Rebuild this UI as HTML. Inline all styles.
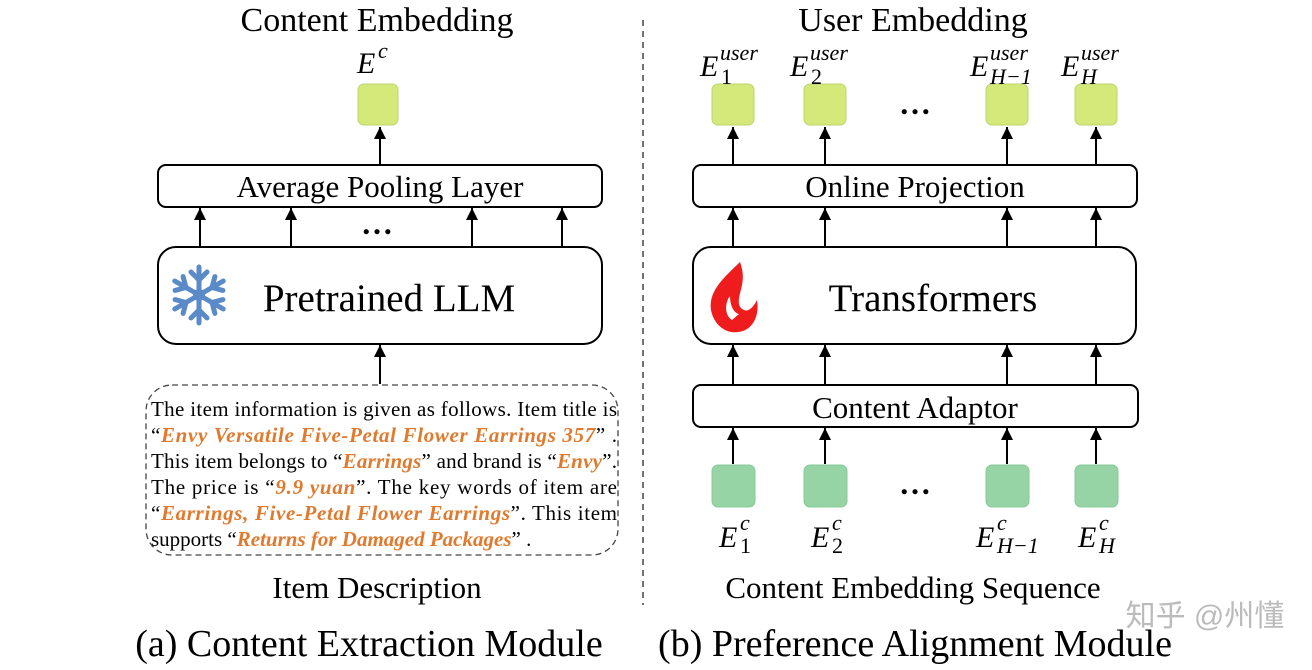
<!DOCTYPE html>
<html><head><meta charset="utf-8"><style>
html,body{margin:0;padding:0;background:#fff;}
svg{display:block;font-family:"Liberation Serif",serif;}
.o{fill:#e07a2e;font-weight:bold;font-style:italic;}
</style></head><body>
<svg width="1312" height="670" viewBox="0 0 1312 670" xmlns="http://www.w3.org/2000/svg">
<defs>
<marker id="a" markerWidth="12" markerHeight="12" refX="10" refY="5" orient="auto" markerUnits="userSpaceOnUse" viewBox="0 0 10 10">
<path d="M0,0 L10,5 L0,10 Z" fill="#000"/></marker>
</defs>
<g stroke="#000" stroke-width="2" fill="none" marker-end="url(#a)">
<line x1="380" y1="164" x2="380" y2="127"/>
<line x1="200" y1="246" x2="200" y2="208"/><line x1="291" y1="246" x2="291" y2="208"/>
<line x1="472" y1="246" x2="472" y2="208"/><line x1="562" y1="246" x2="562" y2="208"/>
<line x1="380" y1="384" x2="380" y2="345"/>
<line x1="733" y1="164" x2="733" y2="127"/><line x1="825" y1="164" x2="825" y2="127"/>
<line x1="1007" y1="164" x2="1007" y2="127"/><line x1="1096" y1="164" x2="1096" y2="127"/>
<line x1="733" y1="246" x2="733" y2="208"/><line x1="825" y1="246" x2="825" y2="208"/>
<line x1="1007" y1="246" x2="1007" y2="208"/><line x1="1096" y1="246" x2="1096" y2="208"/>
<line x1="733" y1="384" x2="733" y2="345"/><line x1="825" y1="384" x2="825" y2="345"/>
<line x1="1007" y1="384" x2="1007" y2="345"/><line x1="1096" y1="384" x2="1096" y2="345"/>
<line x1="733" y1="464" x2="733" y2="428"/><line x1="825" y1="464" x2="825" y2="428"/>
<line x1="1007" y1="464" x2="1007" y2="428"/><line x1="1096" y1="464" x2="1096" y2="428"/>
</g>
<g stroke="#000" stroke-width="2" fill="#fff">
<rect x="158" y="165" width="444" height="42" rx="8"/>
<rect x="158" y="247" width="444" height="97" rx="18"/>
<rect x="693" y="165" width="444" height="42" rx="8"/>
<rect x="693" y="247" width="443" height="97" rx="18"/>
<rect x="693" y="385" width="445" height="42" rx="8"/>
</g>
<rect x="146" y="385" width="472" height="170" rx="26" fill="none" stroke="#444" stroke-width="1.3" stroke-dasharray="6,4"/>
<line x1="643" y1="20" x2="643" y2="605" stroke="#444" stroke-width="1.5" stroke-dasharray="6,5"/>
<g fill="#d4e97a" stroke="#bdd46c" stroke-width="1">
<rect x="358" y="84" width="40" height="41" rx="6"/>
<rect x="712" y="84" width="42" height="41" rx="6"/><rect x="804" y="84" width="42" height="41" rx="6"/>
<rect x="986" y="84" width="42" height="41" rx="6"/><rect x="1075" y="84" width="42" height="41" rx="6"/>
</g>
<g fill="#96d4a6" stroke="#88c898" stroke-width="1">
<rect x="712" y="465" width="43" height="42" rx="6"/><rect x="804" y="465" width="43" height="42" rx="6"/>
<rect x="986" y="465" width="43" height="42" rx="6"/><rect x="1075" y="465" width="43" height="42" rx="6"/>
</g>
<g stroke="#5b8ac9" stroke-width="5" stroke-linecap="round" fill="none" transform="translate(199,295)">
<g id="arm"><line x1="0" y1="0" x2="0" y2="-28"/><line x1="0" y1="-15" x2="-8" y2="-23"/><line x1="0" y1="-15" x2="8" y2="-23"/></g>
<use href="#arm" transform="rotate(60)"/><use href="#arm" transform="rotate(120)"/>
<use href="#arm" transform="rotate(180)"/><use href="#arm" transform="rotate(240)"/><use href="#arm" transform="rotate(300)"/>
<circle r="6" fill="#5b8ac9" stroke="none"/>
</g>
<path d="M740,262 C726,276 708,290 711,310 C714,326 727,334 738,332 C751,331 760,318 757,300 C753,308 748,312 744,310 C735,306 740,295 742,285 C744,275 742,268 740,262 Z M732,320 C724,315 725,302 730,296 C730,306 734,313 739,314 Z" fill="#ee1c1c" fill-rule="evenodd"/>
<g font-size="34" text-anchor="middle">
<text x="377" y="31">Content Embedding</text>
<text x="913" y="31">User Embedding</text>
</g>
<g font-size="31" text-anchor="middle">
<text x="380" y="197">Average Pooling Layer</text>
<text x="915" y="197">Online Projection</text>
<text x="915" y="418">Content Adaptor</text>
<text x="377" y="598">Item Description</text>
<text x="913" y="598">Content Embedding Sequence</text>
</g>
<g font-size="39" text-anchor="middle">
<text x="389" y="311">Pretrained LLM</text>
<text x="933" y="311">Transformers</text>
</g>
<g font-size="38" text-anchor="middle">
<text x="369" y="656">(a) Content Extraction Module</text>
<text x="915" y="656">(b) Preference Alignment Module</text>
</g>
<g font-size="32" font-weight="bold" text-anchor="middle">
<text x="377" y="234">…</text>
<text x="915" y="114">…</text>
<text x="915" y="494">…</text>
</g>
<g font-style="italic">
<text x="357" y="73" font-size="30">E</text><text x="378" y="58" font-size="22">c</text>
<text x="700" y="76" font-size="30">E</text><text x="720" y="60" font-size="22">user</text><text x="721" y="84" font-size="22" font-style="normal">1</text>
<text x="790" y="76" font-size="30">E</text><text x="810" y="60" font-size="22">user</text><text x="811" y="84" font-size="22" font-style="normal">2</text>
<text x="970" y="76" font-size="30">E</text><text x="990" y="60" font-size="22">user</text><text x="990" y="84" font-size="22">H−1</text>
<text x="1061" y="76" font-size="30">E</text><text x="1081" y="60" font-size="22">user</text><text x="1081" y="84" font-size="22">H</text>
<text x="719" y="547" font-size="30">E</text><text x="740" y="530" font-size="22">c</text><text x="740" y="553" font-size="22" font-style="normal">1</text>
<text x="811" y="547" font-size="30">E</text><text x="832" y="530" font-size="22">c</text><text x="832" y="553" font-size="22" font-style="normal">2</text>
<text x="976" y="547" font-size="30">E</text><text x="997" y="530" font-size="22">c</text><text x="997" y="553" font-size="22">H−1</text>
<text x="1078" y="547" font-size="30">E</text><text x="1099" y="530" font-size="22">c</text><text x="1099" y="553" font-size="22">H</text>
</g>
<g font-size="21">
<text x="151" y="416" textLength="466" lengthAdjust="spacing">The item information is given as follows. Item title is</text>
<text x="151" y="442" textLength="466" lengthAdjust="spacing">“<tspan class="o">Envy Versatile Five-Petal Flower Earrings 357</tspan>” .</text>
<text x="151" y="468" textLength="466" lengthAdjust="spacing">This item belongs to “<tspan class="o">Earrings</tspan>” and brand is “<tspan class="o">Envy</tspan>”.</text>
<text x="151" y="494" textLength="466" lengthAdjust="spacing">The price is “<tspan class="o">9.9 yuan</tspan>”. The key words of item are</text>
<text x="151" y="520" textLength="466" lengthAdjust="spacing">“<tspan class="o">Earrings, Five-Petal Flower Earrings</tspan>”. This item</text>
<text x="151" y="546">supports “<tspan class="o">Returns for Damaged Packages</tspan>” .</text>
</g>
<text x="1205" y="626" font-size="30" fill="#bbb" text-anchor="middle" font-family="Liberation Sans,Noto Sans CJK SC,sans-serif">知乎 @州懂</text>
</svg>
</body></html>
